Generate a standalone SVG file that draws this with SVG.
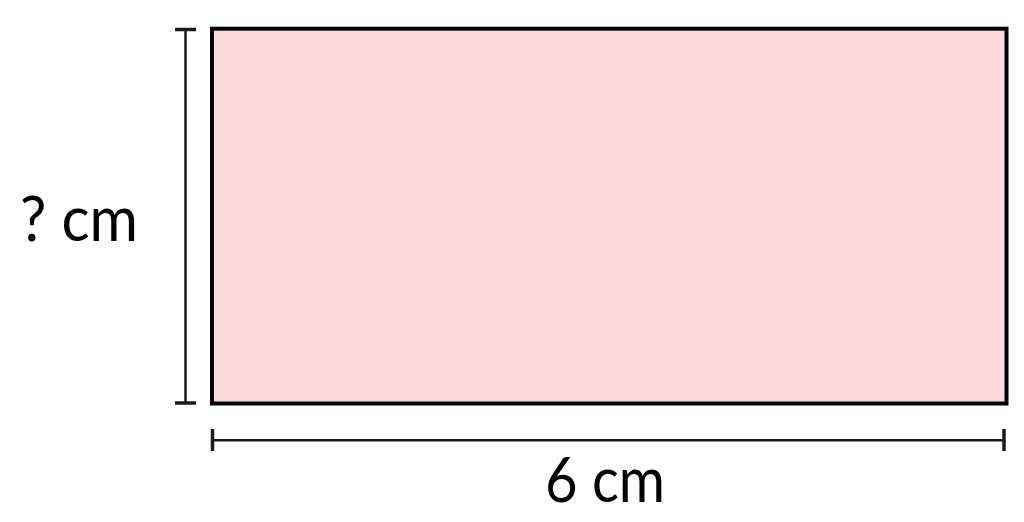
<svg xmlns="http://www.w3.org/2000/svg" width="1024" height="522" viewBox="0 0 1024 522">
<style>
.dim{stroke:#1a1a1a;stroke-width:2.5;fill:none}
.tick{stroke:#1a1a1a;stroke-width:3.5;fill:none}
.lbl{font-family:Lato,"Open Sans",sans-serif;font-size:61px;fill:#000}
</style>
<rect width="1024" height="522" fill="#ffffff"/>
<g id="rectangle">
<rect x="212" y="28.7" width="794.5" height="374.8" fill="#fddcdb" stroke="#000" stroke-width="4"/>
</g>
<g id="connectors">
<line class="dim" x1="185.5" y1="29.5" x2="185.5" y2="403"/>
<line class="tick" x1="175" y1="29.5" x2="196" y2="29.5"/>
<line class="tick" x1="175" y1="403" x2="196" y2="403"/>
<line class="dim" x1="212.5" y1="440.3" x2="1004" y2="440.3"/>
<line class="tick" x1="212.5" y1="429" x2="212.5" y2="451"/>
<line class="tick" x1="1004" y1="429" x2="1004" y2="451"/>
</g>
<g id="label-height">
<text class="lbl" x="20" y="241" textLength="118" lengthAdjust="spacingAndGlyphs">? cm</text>
</g>
<g id="label-width">
<text class="lbl" x="545" y="501.5" textLength="120" lengthAdjust="spacingAndGlyphs">6 cm</text>
</g>
</svg>
